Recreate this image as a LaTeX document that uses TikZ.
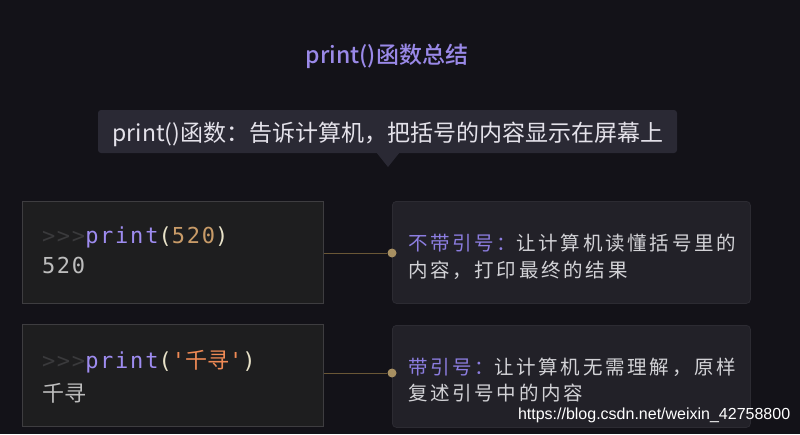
\documentclass[tikz,border=0pt]{standalone}
\usepackage{fontspec}
\setmainfont{Noto Sans CJK SC}
\newfontfamily\cjk{Noto Sans CJK SC}
\newfontfamily\titlefont{Noto Sans CJK SC Medium}
\newfontfamily\codefont[LetterSpace=8]{DejaVu Sans Mono}
\newfontfamily\rightfont[LetterSpace=14]{Noto Sans CJK SC}
\newfontfamily\wmfont{Liberation Sans}
\definecolor{bg}{HTML}{131218}
\definecolor{titlepurple}{HTML}{9A89E8}
\definecolor{calloutfill}{HTML}{2A2934}
\definecolor{calloutText}{HTML}{E4E2EA}
\definecolor{codefill}{HTML}{1E1E1F}
\definecolor{codeborder}{HTML}{3E3D40}
\definecolor{prompt}{HTML}{3A3A3C}
\definecolor{kw}{HTML}{9E8CF0}
\definecolor{paren}{HTML}{E8E2C8}
\definecolor{num}{HTML}{C89B68}
\definecolor{strc}{HTML}{F08A55}
\definecolor{outtext}{HTML}{BDBDBD}
\definecolor{rightfill}{HTML}{222128}
\definecolor{rightborder}{HTML}{2C2B32}
\definecolor{label}{HTML}{8C7DE0}
\definecolor{bodytext}{HTML}{D2D2D6}
\definecolor{conn}{HTML}{6A5736}
\definecolor{dotc}{HTML}{A89062}
\tikzset{
  codebox/.style={draw=codeborder, fill=codefill, line width=0.8pt, minimum width=301pt, minimum height=102pt, inner sep=0pt, anchor=north west},
  notebox/.style={draw=rightborder, fill=rightfill, line width=0.8pt, rounded corners=4pt, minimum width=358pt, minimum height=102pt, inner sep=0pt, anchor=north west},
  txt/.style={inner sep=0pt, outer sep=0pt, anchor=base west},
  codetxt/.style={txt, font=\codefont\fontsize{22}{26}\selectfont},
  righttxt/.style={txt, font=\rightfont\fontsize{19.5}{22}\selectfont, text=bodytext},
  connector/.style={draw=conn, line width=1pt},
  dotnode/.style={circle, fill=dotc, minimum size=9pt, inner sep=0pt},
}
\begin{document}
\begin{tikzpicture}[x=1pt,y=-1pt]
\fill[bg] (0,0) rectangle (800,434);
\useasboundingbox (0,0) rectangle (800,434);
% title
\node[inner sep=0pt, anchor=base, text=titlepurple, font=\titlefont\fontsize{23}{26}\selectfont] (title) at (387,63) {print()函数总结};
% callout
\fill[calloutfill, rounded corners=3pt] (98,110) rectangle (677,153);
\fill[calloutfill] (376,152) -- (400,152) -- (388,167) -- cycle;
\node[inner sep=0pt, anchor=base, text=calloutText, font=\fontsize{23}{26}\selectfont] (callout) at (388,141) {print()函数：告诉计算机，把括号的内容显示在屏幕上};
% code boxes
\node[codebox] (code1) at (22,201) {};
\node[codebox] (code2) at (22,324) {};
\node[codetxt] (c1l1) at (42,243) {\textcolor{prompt}{>>>}\textcolor{kw}{print}\textcolor{paren}{(}\textcolor{num}{520}\textcolor{paren}{)}};
\node[codetxt, text=outtext] (c1l2) at (42,273) {520};
\node[codetxt] (c2l1) at (42,368) {\textcolor{prompt}{>>>}\textcolor{kw}{print}\textcolor{paren}{(}\textcolor{strc}{'{\cjk\fontsize{22}{26}\selectfont 千寻}'}\textcolor{paren}{)}};
\node[txt, text=outtext, font=\cjk\fontsize{22}{26}\selectfont] (c2l2) at (42,401) {千寻};
% note boxes
\node[notebox] (note1) at (392,201) {};
\node[notebox] (note2) at (392,325) {};
\node[righttxt] (n1l1) at (408,250) {\textcolor{label}{不带引号：}让计算机读懂括号里的};
\node[righttxt] (n1l2) at (408,277) {内容，打印最终的结果};
\node[righttxt] (n2l1) at (408,374) {\textcolor{label}{带引号：}让计算机无需理解，原样};
\node[righttxt] (n2l2) at (408,400) {复述引号中的内容};
% connectors
\node[dotnode] (dot1) at (392,253) {};
\node[dotnode] (dot2) at (392,373) {};
\draw[connector] (code1.east |- dot1) -- (dot1);
\draw[connector] (code2.east |- dot2) -- (dot2);
% watermark
\node[txt, text=white, font=\wmfont\fontsize{16}{18}\selectfont] (wm) at (518,419) {https://blog.csdn.net/weixin\_42758800};
\end{tikzpicture}
\end{document}
